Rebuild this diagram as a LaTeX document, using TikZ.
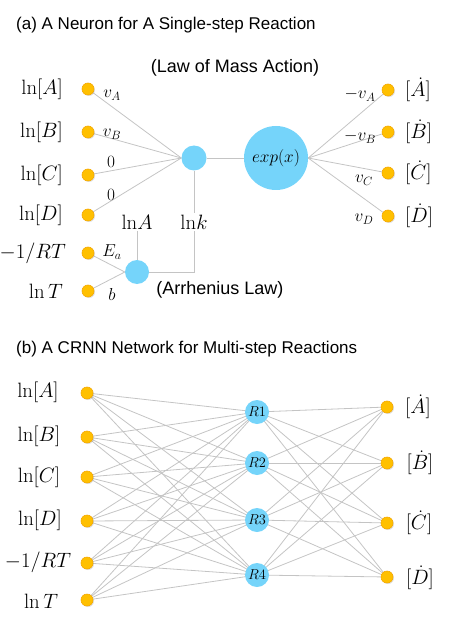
\documentclass[tikz,border=0pt]{standalone}
\usepackage[no-math]{fontspec}
\setmainfont{Liberation Sans}
\usetikzlibrary{shadows,backgrounds}
\definecolor{dotc}{HTML}{FFC000}
\definecolor{dote}{HTML}{F5A800}
\definecolor{neuc}{HTML}{75D4FA}
\definecolor{linec}{HTML}{C4C4C4}
\tikzset{
  dot/.style={circle, inner sep=0pt, minimum size=12pt, fill=dotc, draw=dote, line width=0.6pt,
    drop shadow={shadow xshift=1pt, shadow yshift=-1pt, opacity=0.25}},
  neu/.style={circle, fill=neuc, inner sep=0pt, minimum size=#1},
  neu/.default=24pt,
  edge/.style={draw=linec, line width=0.8pt},
  biglab/.style={font=\fontsize{20}{24}\selectfont, inner sep=1pt},
  wlab/.style={font=\fontsize{17.28}{20}\selectfont, inner sep=0pt},
  ttl/.style={font=\fontsize{17}{20}\selectfont, inner sep=0pt},
  sub/.style={font=\fontsize{18}{21}\selectfont, inner sep=0pt},
}
\begin{document}
\begin{tikzpicture}[x=1pt,y=-1pt]
\useasboundingbox (0,0) rectangle (454,620);
% ---------- part (a) ----------
\node[ttl, anchor=west] (ta) at (16,25) {(a) A Neuron for A Single-step Reaction};
\node[sub] (lma) at (235,68) {(Law of Mass Action)};
\node[sub] (arl) at (220,290) {(Arrhenius Law)};

\node[dot] (ia) at (88,89) {};
\node[dot] (ib) at (88,132) {};
\node[dot] (ic) at (88,175) {};
\node[dot] (id) at (88,215) {};
\node[dot] (irt) at (88,253) {};
\node[dot] (it) at (88,291) {};
\node[biglab, anchor=east] (lia) at (64,89) {$\mathrm{ln}[A]$};
\node[biglab, anchor=east] (lib) at (64,132) {$\mathrm{ln}[B]$};
\node[biglab, anchor=east] (lic) at (64,175) {$\mathrm{ln}[C]$};
\node[biglab, anchor=east] (lid) at (64,215) {$\mathrm{ln}[D]$};
\node[biglab, anchor=east] (lirt) at (67,253) {$-1/RT$};
\node[biglab, anchor=east] (lit) at (64,291) {$\ln T$};

\node[neu=25pt] (n) at (194,158) {};
\node[neu=64pt, font=\fontsize{16}{18}\selectfont] (ex) at (276,158) {$exp(x)$};
\node[neu=24pt] (ar) at (137,272) {};
\node[biglab, inner sep=2pt] (lna) at (137,222) {$\mathrm{ln}A$};
\node[biglab, inner sep=2pt] (lnk) at (194,222) {$\mathrm{ln}k$};

\node[dot] (oa) at (388,90) {};
\node[dot] (ob) at (388,132) {};
\node[dot] (oc) at (388,173) {};
\node[dot] (od) at (388,216) {};
\node[biglab, anchor=west] (loa) at (404,90) {$[\dot{A}]$};
\node[biglab, anchor=west] (lob) at (404,132) {$[\dot{B}]$};
\node[biglab, anchor=west] (loc) at (404,173) {$[\dot{C}]$};
\node[biglab, anchor=west] (lod) at (404,216) {$[\dot{D}]$};

\node[wlab] (wa) at (112,95) {$v_A$};
\node[wlab] (wb) at (112,134) {$v_B$};
\node[wlab] (wc) at (111,162) {$0$};
\node[wlab] (wd) at (111,195) {$0$};
\node[wlab] (we) at (112,252) {$E_a$};
\node[wlab] (wt) at (112,294) {$b$};
\node[wlab] (woa) at (360,95) {$-v_A$};
\node[wlab] (wob) at (360,137) {$-v_B$};
\node[wlab] (woc) at (364,180) {$v_C$};
\node[wlab] (wod) at (364,219) {$v_D$};

\begin{scope}[on background layer]
  \foreach \s in {ia,ib,ic,id} \draw[edge] (\s.center) -- (n.west);
  \foreach \t in {oa,ob,oc,od} \draw[edge] (ex.east) -- (\t.center);
  \draw[edge] (n) -- (ex);
  \draw[edge] (irt.center) -- (ar.west);
  \draw[edge] (it.center) -- (ar.west);
  \draw[edge] (n) -- (lnk.north);
  \draw[edge] (ar.east) -| (lnk.south);
  \draw[edge] (ar) -- (lna.south);
\end{scope}

% ---------- part (b) ----------
\node[ttl, anchor=west] (tb) at (16,349) {(b) A CRNN Network for Multi-step Reactions};

\node[dot] (ba) at (87,393) {};
\node[dot] (bb) at (87,437) {};
\node[dot] (bc) at (87,477) {};
\node[dot] (bd) at (87,521) {};
\node[dot] (brt) at (87,563) {};
\node[dot] (bt) at (87,600) {};
\node[biglab] (lba) at (38,392) {$\mathrm{ln}[A]$};
\node[biglab] (lbb) at (39,436) {$\mathrm{ln}[B]$};
\node[biglab] (lbc) at (39,477) {$\mathrm{ln}[C]$};
\node[biglab] (lbd) at (40,520) {$\mathrm{ln}[D]$};
\node[biglab] (lbrt) at (38,562) {$-1/RT$};
\node[biglab] (lbt) at (41,601) {$\ln T$};

\node[neu=24pt, font=\fontsize{14}{16}\selectfont] (r1) at (257,412) {$R1$};
\node[neu=24pt, font=\fontsize{14}{16}\selectfont] (r2) at (257,463) {$R2$};
\node[neu=24pt, font=\fontsize{14}{16}\selectfont] (r3) at (257,520) {$R3$};
\node[neu=24pt, font=\fontsize{14}{16}\selectfont] (r4) at (257,575) {$R4$};

\node[dot] (pa) at (387,407) {};
\node[dot] (pb) at (387,463) {};
\node[dot] (pc) at (387,523) {};
\node[dot] (pd) at (387,577) {};
\node[biglab] (lpa) at (418,407) {$[\dot{A}]$};
\node[biglab] (lpb) at (420,463) {$[\dot{B}]$};
\node[biglab] (lpc) at (419,523) {$[\dot{C}]$};
\node[biglab] (lpd) at (420,578) {$[\dot{D}]$};

\begin{scope}[on background layer]
  \foreach \s in {ba,bb,bc,bd,brt,bt}
    \foreach \r in {r1,r2,r3,r4}
      \draw[edge] (\s.center) -- (\r.center);
  \foreach \r in {r1,r2,r3,r4}
    \foreach \t in {pa,pb,pc,pd}
      \draw[edge] (\r.center) -- (\t.center);
\end{scope}
\end{tikzpicture}
\end{document}
